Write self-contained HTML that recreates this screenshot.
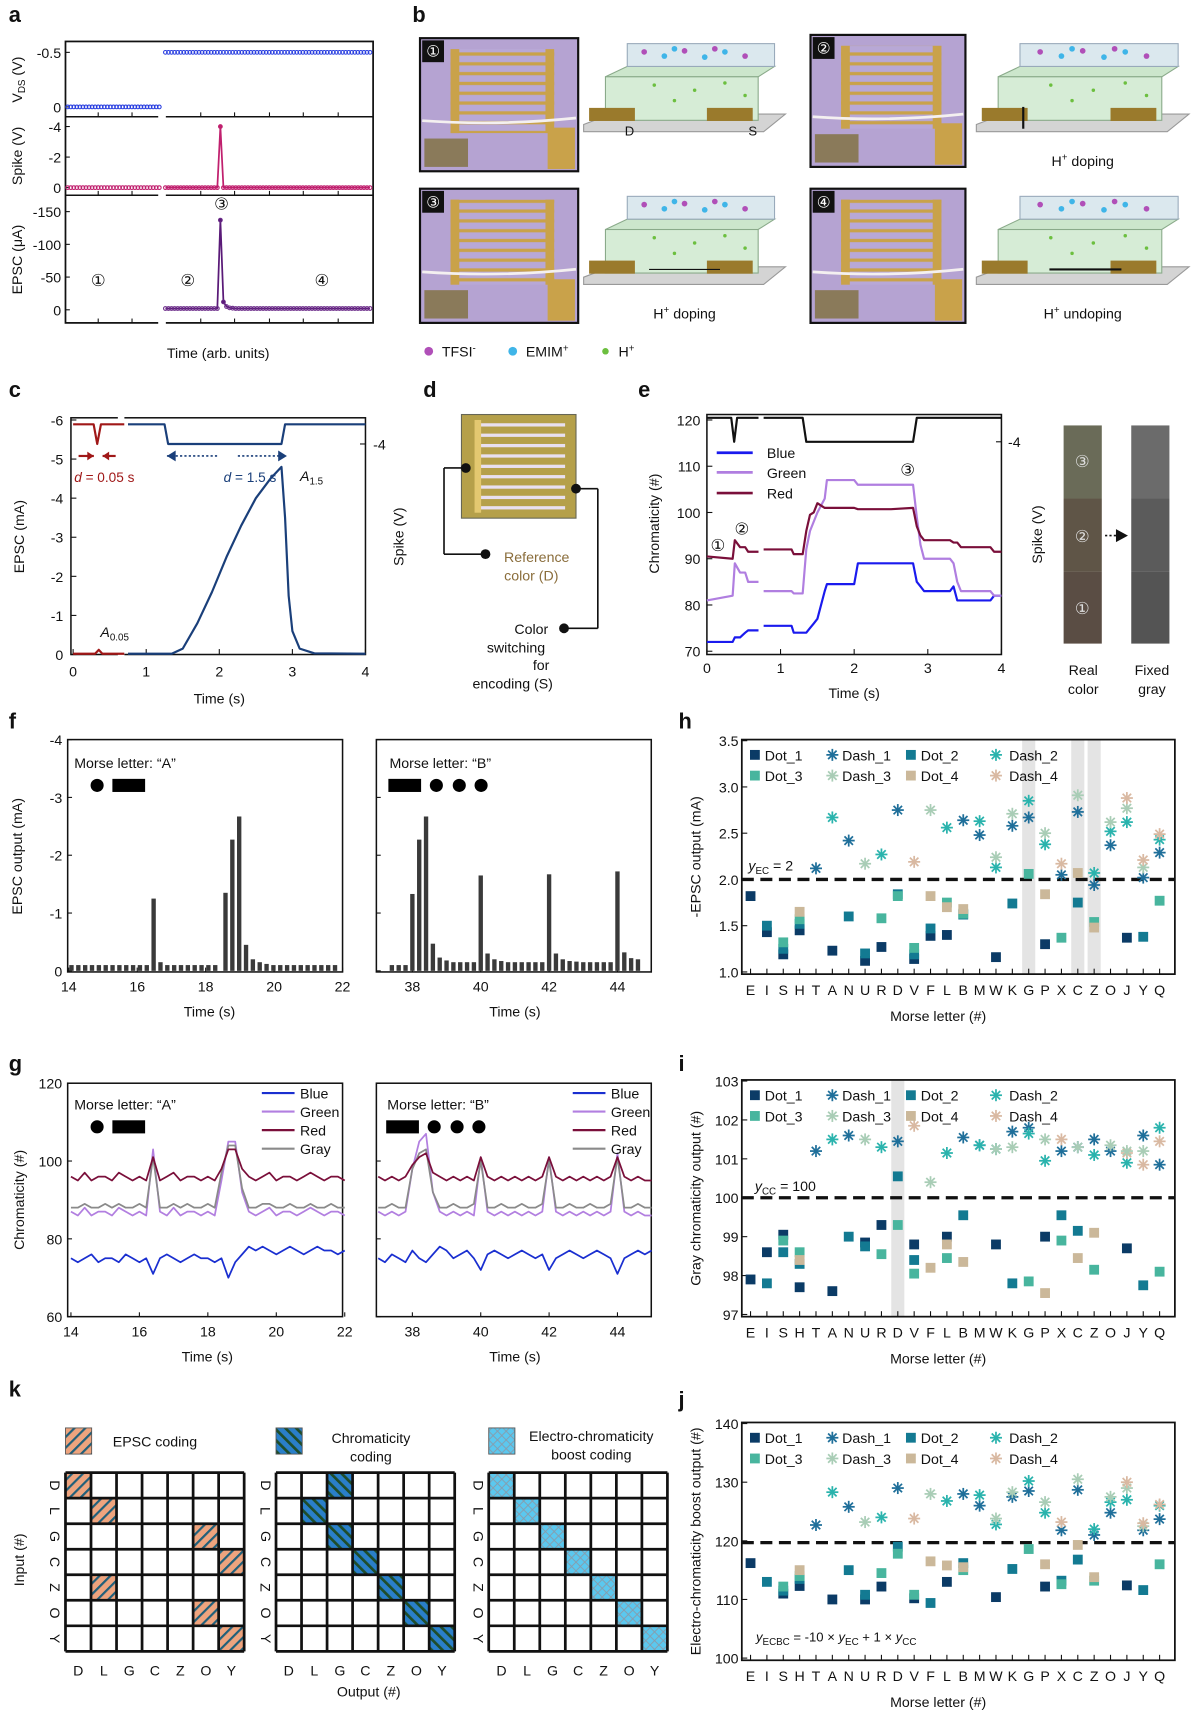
<!DOCTYPE html>
<html><head><meta charset="utf-8"><style>
html,body{margin:0;padding:0;background:#fff;}
svg{display:block;font-family:"Liberation Sans",Arial,sans-serif;}
</style></head><body>
<svg id="fig" xmlns="http://www.w3.org/2000/svg" width="1200" height="1717" viewBox="0 0 1100 1574">
<defs>
<pattern id="hatchE" patternUnits="userSpaceOnUse" width="7" height="7" patternTransform="rotate(45)"><rect width="7" height="7" fill="#eea47e"/><rect width="2" height="7" fill="#1f5f7a"/></pattern>
<pattern id="hatchC" patternUnits="userSpaceOnUse" width="7" height="7" patternTransform="rotate(-45)"><rect width="7" height="7" fill="#2a7fc9"/><rect width="2.5" height="7" fill="#1e4d2b"/></pattern>
<pattern id="hatchB" patternUnits="userSpaceOnUse" width="8" height="8"><rect width="8" height="8" fill="#5bc8ef"/><path d="M0,0L8,8M8,0L0,8" stroke="#8a9aa8" stroke-width="0.8"/></pattern>
<pattern id="comb" patternUnits="userSpaceOnUse" width="10" height="9"><rect width="10" height="9" fill="#b8a8d6"/><rect y="3" width="10" height="3" fill="#c9a24a"/></pattern>
</defs>
</svg>
<script>
// ---------------- DATA ----------------
const aTicksVds=[-0.5,0];
const aTicksSpike=[-4,-2,0];
const aTicksEpsc=[-150,-100,-50,0];
const aEpscRight=[-2,-2,-2,-2,-2,-2,-2,-2,-2,-2,-2,-2,-2,-2,-2,-2,-2,-2,-137,-12,-5,-3,-2.5,-2,-2,-2,-2,-2,-2,-2,-2,-2,-2,-2,-2,-2,-2,-2,-2,-2,-2,-2,-2,-2,-2,-2,-2,-2,-2,-2,-2,-2,-2,-2,-2,-2,-2,-2,-2,-2,-2,-2,-2,-2,-2,-2,-2,-2];
const aSpikeRight=[0,0,0,0,0,0,0,0,0,0,0,0,0,0,0,0,0,0,-4,0,0,0,0,0,0,0,0,0,0,0,0,0,0,0,0,0,0,0,0,0,0,0,0,0,0,0,0,0,0,0,0,0,0,0,0,0,0,0,0,0,0,0,0,0,0,0,0,0];
const aVdsLeft=[0,0,0,0,0,0,0,0,0,0,0,0,0,0,0,0,0,0,0,0,0,0,0,0,0,0,0,0,0,0,0];
const aVdsRight=[-0.5,-0.5,-0.5,-0.5,-0.5,-0.5,-0.5,-0.5,-0.5,-0.5,-0.5,-0.5,-0.5,-0.5,-0.5,-0.5,-0.5,-0.5,-0.5,-0.5,-0.5,-0.5,-0.5,-0.5,-0.5,-0.5,-0.5,-0.5,-0.5,-0.5,-0.5,-0.5,-0.5,-0.5,-0.5,-0.5,-0.5,-0.5,-0.5,-0.5,-0.5,-0.5,-0.5,-0.5,-0.5,-0.5,-0.5,-0.5,-0.5,-0.5,-0.5,-0.5,-0.5,-0.5,-0.5,-0.5,-0.5,-0.5,-0.5,-0.5,-0.5,-0.5,-0.5,-0.5,-0.5,-0.5,-0.5,-0.5];

const cTicksX=[0,1,2,3,4];
const cTicksY=[-6,-5,-4,-3,-2,-1,0];
const cRedT=[0,0.3,0.35,0.4,0.7];
const cRedV=[-0.02,-0.02,-0.12,-0.02,-0.02];
const cBlueT=[0.75,1.35,1.5,1.7,1.9,2.1,2.3,2.5,2.7,2.85,2.9,2.95,3.0,3.1,3.3,4.0];
const cBlueV=[-0.02,-0.02,-0.15,-0.8,-1.6,-2.5,-3.3,-4.0,-4.5,-4.8,-3.5,-1.5,-0.6,-0.15,-0.03,-0.02];
const cSpikeRedT=[0,0.28,0.33,0.38,0.7];
const cSpikeRedV=[0,0,-4,0,0];
const cSpikeBlueT=[0.75,1.25,1.3,2.85,2.9,4.0];
const cSpikeBlueV=[0,0,-4,-4,0,0];

const eTicksX=[0,1,2,3,4];
const eTicksY=[70,80,90,100,110,120];
const eT=[0,0.35,0.38,0.45,0.52,0.56,0.7,NaN,0.77,1.15,1.18,1.3,1.35,1.4,1.45,1.5,1.6,1.63,2.0,2.05,2.5,2.8,2.85,2.9,2.95,3.3,3.35,3.4,3.45,3.85,3.9,4.0];
const eRed=[90.5,90,94,92.5,92.5,91.5,91.5,NaN,92,92,91,91,96,99.5,100,102,101,101,101,100.7,100.7,101,97,95,94,94,93.5,93.5,92.5,92.5,91.5,91.5];
const eGreen=[81,82,89,87,87,85,85,NaN,83,83,82.5,82.5,92,96,98,100,103,107,107,106,106,106,99,93,90,90,89,85,83,83,82,82];
const eBlue=[72,72,73,73,74,74.5,74.5,NaN,75.5,75.5,74,74,74,75,76,77,83,84.5,84.5,89,89,89,85,84,83,83,84,81,81,81,82,82];
const eSpikeT=[0,0.33,0.37,0.41,0.7,NaN,0.77,1.3,1.35,2.8,2.85,4.0];
const eSpikeV=[0,0,-4,0,0,NaN,0,0,-4,-4,0,0];

const fLeftT=[14,14.2,14.4,14.6,14.8,15,15.2,15.4,15.6,15.8,16,16.2,16.4,16.6,16.8,17,17.2,17.4,17.6,17.8,18,18.2,18.5,18.7,18.9,19.1,19.3,19.5,19.7,19.9,20.1,20.3,20.5,20.7,20.9,21.1,21.3,21.5,21.7];
const fLeftV=[0.1,0.1,0.1,0.1,0.1,0.1,0.1,0.1,0.1,0.1,0.1,0.1,1.25,0.15,0.1,0.1,0.1,0.1,0.1,0.1,0.1,0.1,1.35,2.27,2.67,0.45,0.2,0.15,0.12,0.1,0.1,0.1,0.1,0.1,0.1,0.1,0.1,0.1,0.1];
const fRightT=[37.4,37.6,37.8,38.0,38.2,38.4,38.6,38.8,39.0,39.2,39.4,39.6,39.8,40.0,40.2,40.4,40.6,40.8,41.0,41.2,41.4,41.6,41.8,42.0,42.2,42.4,42.6,42.8,43.0,43.2,43.4,43.6,43.8,44.0,44.2,44.4,44.6];
const fRightV=[0.1,0.1,0.1,1.33,2.27,2.67,0.47,0.23,0.18,0.15,0.15,0.15,0.15,1.65,0.3,0.2,0.17,0.15,0.15,0.15,0.15,0.15,0.15,1.67,0.3,0.2,0.17,0.16,0.15,0.15,0.15,0.15,0.15,1.72,0.32,0.22,0.2];

const gLeftT=[14,14.2,14.4,14.6,14.8,15,15.2,15.4,15.6,15.8,16,16.2,16.4,16.6,16.8,17,17.2,17.4,17.6,17.8,18,18.2,18.4,18.6,18.8,19,19.2,19.4,19.6,19.8,20,20.2,20.4,20.6,20.8,21,21.2,21.4,21.6,21.8,22];
const gLeftRed=[96,95,97,95,96,96,95,97,96,95,96,95,101,95,96,97,95,96,96,95,96,95,98,103,103,98,96,95,96,97,95,96,96,95,96,97,96,95,96,96,95];
const gLeftGreen=[87,86,88,86,87,87,86,88,87,86,87,86,103,87,86,88,86,87,87,86,87,86,95,105,105,92,87,86,87,88,86,87,87,86,87,88,87,86,87,87,86];
const gLeftGray=[88,88,89,88,88,89,88,89,88,88,89,88,101,88,88,89,88,89,88,88,89,88,97,104,104,93,88,88,89,89,88,88,89,88,88,89,88,88,89,88,88];
const gLeftBlue=[75,74,75,76,74,75,75,74,76,75,74,75,71,75,76,75,74,75,76,75,75,74,75,70,74,76,78,77,78,77,76,77,78,77,76,77,78,77,77,76,77];
const gRightT=[37,37.2,37.4,37.6,37.8,38,38.2,38.4,38.6,38.8,39,39.2,39.4,39.6,39.8,40,40.2,40.4,40.6,40.8,41,41.2,41.4,41.6,41.8,42,42.2,42.4,42.6,42.8,43,43.2,43.4,43.6,43.8,44,44.2,44.4,44.6,44.8,45];
const gRightRed=[96,95,96,95,96,99,101,102,97,96,95,96,95,96,95,101,96,95,96,95,96,95,96,95,96,101,96,95,96,95,96,95,96,95,96,101,96,95,96,95,95];
const gRightGreen=[87,86,87,86,87,98,105,107,92,87,86,87,86,87,86,101,87,86,87,86,87,86,87,86,87,101,87,86,87,86,87,86,87,86,87,102,87,86,87,86,86];
const gRightGray=[88,88,89,88,88,98,102,103,92,88,88,89,88,88,89,100,88,88,89,88,88,89,88,88,89,100,88,88,89,88,88,89,88,88,89,101,88,88,89,88,88];
const gRightBlue=[75,74,76,75,74,77,75,74,76,78,77,75,76,77,75,72,76,77,76,75,76,77,76,75,76,72,75,76,77,76,75,76,77,76,75,71,75,76,77,76,77];

const letters=["E","I","S","H","T","A","N","U","R","D","V","F","L","B","M","W","K","G","P","X","C","Z","O","J","Y","Q"];
const seriesNames=["Dot_1","Dash_1","Dot_2","Dash_2","Dot_3","Dash_3","Dot_4","Dash_4"];
const seriesColors=["#0b3b66","#1f6f9a","#137a92","#2ab3ad","#48b59e","#a9cdb6","#cbb89a","#d9b9a2"];
// each entry: [letterIndex, seriesIndex, value]
const hPoints=[[0,0,1.82],[1,0,1.43],[1,2,1.5],[2,0,1.19],[2,2,1.25],[2,4,1.32],[3,0,1.45],[3,2,1.52],[3,4,1.57],[3,6,1.65],[4,1,2.12],[5,0,1.23],[5,3,2.67],[6,2,1.6],[6,1,2.42],[7,0,1.12],[7,2,1.2],[7,5,2.17],[8,0,1.27],[8,4,1.58],[8,3,2.27],[9,2,1.84],[9,4,1.82],[9,1,2.75],[10,0,1.14],[10,2,1.19],[10,4,1.26],[10,7,2.19],[11,0,1.39],[11,2,1.47],[11,6,1.82],[11,5,2.75],[12,0,1.4],[12,4,1.75],[12,6,1.7],[12,3,2.56],[13,2,1.62],[13,4,1.63],[13,6,1.68],[13,1,2.64],[14,1,2.48],[14,3,2.63],[15,0,1.16],[15,3,2.13],[15,5,2.24],[16,2,1.74],[16,1,2.58],[16,5,2.71],[17,4,2.06],[17,1,2.67],[17,3,2.85],[18,0,1.3],[18,6,1.84],[18,3,2.38],[18,5,2.5],[19,4,1.37],[19,1,2.05],[19,7,2.17],[20,2,1.75],[20,6,2.07],[20,1,2.73],[20,5,2.91],[21,4,1.54],[21,6,1.48],[21,1,1.94],[21,3,2.07],[22,1,2.37],[22,3,2.52],[22,5,2.62],[23,0,1.37],[23,3,2.62],[23,5,2.77],[23,7,2.88],[24,2,1.38],[24,1,2.02],[24,5,2.13],[24,7,2.21],[25,4,1.77],[25,1,2.29],[25,3,2.43],[25,7,2.49]];
const iPoints=[[0,0,97.9],[1,0,98.6],[1,2,97.8],[2,0,99.05],[2,4,98.9],[2,2,98.6],[3,0,97.7],[3,2,98.3],[3,4,98.6],[3,6,98.4],[4,1,101.2],[5,0,97.6],[5,3,101.5],[6,2,99.0],[6,1,101.6],[7,0,98.85],[7,2,98.75],[7,5,101.5],[8,0,99.3],[8,4,98.55],[8,3,101.3],[9,2,100.55],[9,4,99.3],[9,1,101.45],[10,0,98.8],[10,2,98.4],[10,4,98.05],[10,7,101.85],[11,6,98.2],[11,5,100.4],[12,0,99.0],[12,6,98.8],[12,4,98.45],[12,3,101.15],[13,2,99.55],[13,6,98.35],[13,1,101.55],[14,1,101.35],[14,3,101.35],[15,0,98.8],[15,3,101.25],[15,5,101.25],[16,2,97.8],[16,1,101.7],[16,5,101.3],[17,4,97.85],[17,1,101.8],[17,3,101.65],[18,0,99.0],[18,6,97.55],[18,3,100.95],[18,5,101.5],[19,2,99.55],[19,4,98.9],[19,1,101.2],[19,7,101.5],[20,2,99.15],[20,6,98.45],[20,1,101.3],[20,5,101.3],[21,4,98.15],[21,6,99.1],[21,1,101.5],[21,3,101.1],[22,1,101.2],[22,5,101.35],[23,0,98.7],[23,3,100.9],[23,7,101.15],[23,5,101.2],[24,2,97.75],[24,1,101.6],[24,5,101.2],[24,7,100.85],[25,4,98.1],[25,1,100.85],[25,3,101.8],[25,7,101.45]];
const jPoints=[[0,0,116.2],[1,2,113.0],[2,0,111.0],[2,2,111.5],[2,4,112.2],[3,0,112.3],[3,2,113.5],[3,4,114.0],[3,6,115.0],[4,1,122.7],[5,0,110.0],[5,3,128.3],[6,2,115.0],[6,1,125.8],[7,0,110.0],[7,2,110.8],[7,5,123.2],[8,0,112.2],[8,4,114.5],[8,3,124.0],[9,2,119.0],[9,4,117.8],[9,1,129.0],[10,0,110.2],[10,4,110.8],[10,7,123.8],[11,2,109.4],[11,6,116.5],[11,5,128.0],[12,0,113.0],[12,6,115.8],[12,3,126.8],[13,2,116.2],[13,4,115.0],[13,6,115.5],[13,1,128.0],[14,1,126.0],[14,3,127.8],[15,0,110.4],[15,3,122.8],[15,5,123.8],[16,2,115.2],[16,1,127.5],[16,5,128.3],[17,4,118.6],[17,1,128.5],[17,3,130.2],[18,0,112.2],[18,6,116.0],[18,3,124.8],[18,5,126.6],[19,2,113.2],[19,4,112.6],[19,1,121.8],[19,7,123.2],[20,2,116.8],[20,6,119.3],[20,1,128.7],[20,5,130.5],[21,4,113.2],[21,6,113.8],[21,1,121.0],[21,3,122.0],[22,1,124.8],[22,3,126.6],[22,5,127.5],[23,0,112.4],[23,3,127.0],[23,5,129.0],[23,7,130.0],[24,2,111.6],[24,1,121.8],[24,5,122.5],[24,7,123.0],[25,4,116.0],[25,1,123.7],[25,3,126.0],[25,7,126.2]];
const hTicks=[1.0,1.5,2.0,2.5,3.0,3.5];
const iTicks=[97,98,99,100,101,102,103];
const jTicks=[100,110,120,130,140];

const kLetters=["D","L","G","C","Z","O","Y"];
const kEpsc=[0,1,5,6,1,5,6];   // output column for each input row
const kChroma=[2,1,2,3,4,5,6];
const kBoost=[0,1,2,3,4,5,6];

// ---------------- HELPERS ----------------
const NS="http://www.w3.org/2000/svg";
const SVG=document.getElementById('fig');
function mk(tag,attrs,name,inter,parent){
  const e=document.createElementNS(NS,tag);
  for(const k in attrs) e.setAttribute(k,attrs[k]);
  
  
  (parent||SVG).appendChild(e);
  return e;
}
function T(x,y,s,name,o){
  o=o||{};
  const a={x:x,y:y,'font-size':o.size||13,fill:o.fill||'#111','text-anchor':o.anchor||'middle'};
  if(o.weight)a['font-weight']=o.weight;
  if(o.style)a['font-style']=o.style;
  if(o.rot!==undefined)a.transform='rotate('+o.rot+' '+x+' '+y+')';
  const e=mk('text',a,name,false);
  e.innerHTML=s;
  return e;
}
function L(x1,y1,x2,y2,c,w,name,dash){
  const a={x1:x1,y1:y1,x2:x2,y2:y2,stroke:c,'stroke-width':w};
  if(dash)a['stroke-dasharray']=dash;
  return mk('line',a,name,false);
}
function R(x,y,w,h,fill,name,o){
  o=o||{};
  const a={x:x,y:y,width:w,height:h,fill:fill};
  if(o.stroke){a.stroke=o.stroke;a['stroke-width']=o.sw||1;}
  return mk('rect',a,name,false);
}
function scale(d0,d1,r0,r1){return v=>r0+(v-d0)*(r1-r0)/(d1-d0);}
function pathFrom(ts,vs,sx,sy){
  let d='',pen=false;
  for(let i=0;i<ts.length;i++){
    if(isNaN(ts[i])||isNaN(vs[i])){pen=false;continue;}
    d+=(pen?'L':'M')+sx(ts[i]).toFixed(1)+','+sy(vs[i]).toFixed(1);
    pen=true;
  }
  return d;
}
function P(d,c,w,name){return mk('path',{d:d,fill:'none',stroke:c,'stroke-width':w,'stroke-linejoin':'round'},name,false);}

// panel letters
[["a",8,20],["b",378,20],["c",8,364],["d",388,364],["e",585,364],["f",8,668],["h",622,668],["g",8,982],["i",622,982],["k",8,1280],["j",622,1290]].forEach(p=>{
  T(p[1],p[2],p[0],'panel-label-'+p[0],{size:20,weight:'bold',anchor:'start'});
});

// ---------------- PANEL A ----------------
(function(){
  const x0=60,x1=342;
  const sx=u=>62+u*2.8;
  const yV=scale(0,-0.5,98,48), yS=scale(0,-4,172,116), yE=scale(0,-150,284,194);
  R(x0,38,x1-x0,258,'none','panel-a-frame',{stroke:'#111',sw:1.6});
  L(x0,107,x1,107,'#111',1.4,'panel-a-divider-1');
  L(x0,179,x1,179,'#111',1.4,'panel-a-divider-2');
  [107,179,296].forEach((yy,k)=>{
    [90,121,184,215,247,278,310].forEach(xx=>L(xx,yy,xx,yy-4,'#111',1,'x-tick-a'));
    R(145,yy-2,7,4,'#fff','axis-break-a');
  });
  aTicksVds.forEach(v=>{L(x0,yV(v),x0+4,yV(v),'#111',1,'y-tick-vds');T(x0-4,yV(v)+5,v===0?'0':String(v),'y-tick-label-vds',{anchor:'end'});});
  aTicksSpike.forEach(v=>{L(x0,yS(v),x0+4,yS(v),'#111',1,'y-tick-spike');T(x0-4,yS(v)+5,String(v),'y-tick-label-spike',{anchor:'end'});});
  aTicksEpsc.forEach(v=>{L(x0,yE(v),x0+4,yE(v),'#111',1,'y-tick-epsc');T(x0-4,yE(v)+5,String(v),'y-tick-label-epsc',{anchor:'end'});});
  T(20,73,'V<tspan font-size="9" dy="3">DS</tspan><tspan dy="-3"> (V)</tspan>','y-axis-title-vds',{rot:-90});
  T(20,143,'Spike (V)','y-axis-title-spike',{rot:-90});
  T(20,238,'EPSC (μA)','y-axis-title-epsc',{rot:-90});
  T(200,328,'Time (arb. units)','x-axis-title-a');
  // VDS points
  aVdsLeft.forEach((v,i)=>mk('circle',{cx:sx(i),cy:yV(v),r:1.7,fill:'none',stroke:'#2a3fe0','stroke-width':1},'vds-point',false));
  aVdsRight.forEach((v,i)=>mk('circle',{cx:sx(32+i),cy:yV(v),r:1.7,fill:'none',stroke:'#2a3fe0','stroke-width':1},'vds-point',false));
  // spike
  aVdsLeft.forEach((v,i)=>mk('circle',{cx:sx(i),cy:yS(0),r:1.7,fill:'none',stroke:'#c0206e','stroke-width':1},'spike-point',false));
  P(pathFrom(aSpikeRight.map((v,i)=>32+i),aSpikeRight,sx,yS),'#c0206e',1.6,'spike-line');
  aSpikeRight.forEach((v,i)=>mk('circle',{cx:sx(32+i),cy:yS(v),r:1.7,fill:v?'#c0206e':'none',stroke:'#c0206e','stroke-width':1},'spike-point',false));
  P(pathFrom(aEpscRight.map((v,i)=>32+i),aEpscRight,sx,yE),'#5a1a78',1.6,'epsc-line');
  aEpscRight.forEach((v,i)=>mk('circle',{cx:sx(32+i),cy:yE(v),r:1.7,fill:v<-10?'#5a1a78':'none',stroke:'#6a2a88','stroke-width':1},'epsc-point',false));
  [['①',90,262],['②',172,262],['③',203,192],['④',295,262]].forEach(c=>T(c[1],c[2],c[0],'stage-marker',{size:15}));
})();

// ---------------- PANEL B ----------------
function photo(x,y,w,h,num){
  R(x,y,w,h,'#b5a3d2','device-photo',{stroke:'#111',sw:2});
  R(x+28,y+10,w-50,h-45,'url(#comb)','electrode-comb');
  R(x+28,y+10,8,h-45,'#c9a24a','electrode-bus-left');
  R(x+w-30,y+10,8,h-45,'#c9a24a','electrode-bus-right');
  R(x+w-28,y+h-40,25,38,'#c9a24a','electrode-pad');
  R(x+4,y+h-30,40,26,'#8a7a5a','photo-corner');
  P('M'+(x+2)+','+(y+h*0.62)+' Q'+(x+w/2)+','+(y+h*0.66)+' '+(x+w-2)+','+(y+h*0.6),'#f4f0f0',2.5,'photo-fiber');
  R(x+2,y+2,20,20,'#111','photo-number-box');
  T(x+12,y+17,num,'photo-number',{size:14,fill:'#fff'});
}
function schem(x,y,w,h,lbl){
  mk('polygon',{points:[x,y+h*0.78,x+25,y+h*0.68,x+w,y+h*0.68,x+w-20,y+h*0.85,x,y+h*0.85].join(' '),fill:'#d4d4d4',stroke:'#999'},'substrate',false);
  mk('polygon',{points:[x+20,y+h*0.32,x+40,y+h*0.22,x+w-10,y+h*0.22,x+w-25,y+h*0.32].join(' '),fill:'#bfe0bf',stroke:'#8aaa8a','fill-opacity':0.8},'electrolyte-top',false);
  R(x+20,y+h*0.32,w-45,h*0.42,'#d6ecd6','electrolyte-layer',{stroke:'#8aaa8a'});
  R(x+40,y,w-50,h*0.22,'#dbe8ee','ion-box',{stroke:'#9ab'});
  R(x+5,y+h*0.62,42,12,'#9a7a2c','source-electrode');
  R(x+w-72,y+h*0.62,42,12,'#9a7a2c','drain-electrode');
  const dots=[[0.3,0.08,'#b04fb8'],[0.4,0.12,'#3fb5e8'],[0.5,0.07,'#b04fb8'],[0.6,0.13,'#3fb5e8'],[0.7,0.08,'#3fb5e8'],[0.8,0.12,'#b04fb8'],[0.45,0.05,'#3fb5e8'],[0.65,0.05,'#b04fb8']];
  dots.forEach(d=>mk('circle',{cx:x+w*d[0],cy:y+h*d[1],r:2.6,fill:d[2]},'ion-dot',false));
  [[0.35,0.4],[0.55,0.45],[0.7,0.38],[0.45,0.55],[0.8,0.5]].forEach(d=>mk('circle',{cx:x+w*d[0],cy:y+h*d[1],r:1.6,fill:'#6cbf3f'},'proton-dot',false));
  if(lbl)T(x+w/2,y+h+17,lbl,'schematic-label');
}
photo(385,35,145,122,'①');schem(535,40,185,95);
T(577,124,'D','source-label',{size:12});T(690,124,'S','drain-label',{size:12});
photo(743,32,142,121,'②');schem(895,40,195,95,'H<tspan font-size="9" dy="-5">+</tspan><tspan dy="5"> doping</tspan>');
photo(385,173,145,123,'③');schem(535,180,185,95,'H<tspan font-size="9" dy="-5">+</tspan><tspan dy="5"> doping</tspan>');
photo(743,173,142,123,'④');schem(895,180,195,95,'H<tspan font-size="9" dy="-5">+</tspan><tspan dy="5"> undoping</tspan>');
L(938,98,938,118,'#111',2,'doping-arrow');
L(660,247,595,247,'#111',1,'doping-arrow-3');
L(1028,247,962,247,'#111',2,'undoping-arrow');
mk('circle',{cx:393,cy:322,r:4,fill:'#b04fb8'},'legend-tfsi-dot',false);T(405,327,'TFSI<tspan font-size="9" dy="-5">-</tspan>','legend-tfsi',{anchor:'start'});
mk('circle',{cx:470,cy:322,r:4,fill:'#3fb5e8'},'legend-emim-dot',false);T(482,327,'EMIM<tspan font-size="9" dy="-5">+</tspan>','legend-emim',{anchor:'start'});
mk('circle',{cx:555,cy:322,r:3,fill:'#6cbf3f'},'legend-h-dot',false);T(567,327,'H<tspan font-size="9" dy="-5">+</tspan>','legend-h',{anchor:'start'});

// ---------------- PANEL C ----------------
(function(){
  const sx=scale(0,4,67,335), sy=scale(0,-6,600,385), sp=scale(0,-4,389,407);
  R(65,383,270,217,'none','panel-c-frame',{stroke:'#111',sw:1.4});
  cTicksX.forEach(v=>{L(sx(v),600,sx(v),595,'#111',1,'x-tick-c');T(sx(v),620,String(v),'x-tick-label-c');});
  cTicksY.forEach(v=>{L(65,sy(v),70,sy(v),'#111',1,'y-tick-c');T(58,sy(v)+5,v===0?'0':String(v),'y-tick-label-c',{anchor:'end'});});
  L(330,sp(-4),335,sp(-4),'#111',1,'right-tick-c');T(342,sp(-4)+5,'-4','right-tick-label-c',{anchor:'start'});
  R(108,380,6,225,'#fff','axis-break-c');
  T(201,645,'Time (s)','x-axis-title-c');
  T(22,492,'EPSC (mA)','y-axis-title-c',{rot:-90});
  T(370,492,'Spike (V)','right-axis-title-c',{rot:-90});
  P(pathFrom(cRedT,cRedV,sx,sy),'#a01818',2,'epsc-red');
  P(pathFrom(cBlueT,cBlueV,sx,sy),'#1a3f7a',2,'epsc-blue');
  P(pathFrom(cSpikeRedT,cSpikeRedV,sx,sp),'#a01818',2,'spike-red');
  P(pathFrom(cSpikeBlueT,cSpikeBlueV,sx,sp),'#1a3f7a',2,'spike-blue');
  L(72,418,86,418,'#a01818',2,'d-arrow-left');L(94,418,106,418,'#a01818',2,'d-arrow-right');
  mk('polygon',{points:'86,418 80,414 80,422',fill:'#a01818'},'arrow-head',false);
  mk('polygon',{points:'94,418 100,414 100,422',fill:'#a01818'},'arrow-head',false);
  T(68,442,'<tspan font-style="italic">d</tspan> = 0.05 s','d-label-red',{fill:'#a01818',anchor:'start',size:12.5});
  L(153,418,200,418,'#1a3f7a',1.5,'d-arrow-blue-left','2 2');L(218,418,262,418,'#1a3f7a',1.5,'d-arrow-blue-right','2 2');
  mk('polygon',{points:'153,418 161,413 161,423',fill:'#1a3f7a'},'arrow-head',false);
  mk('polygon',{points:'263,418 255,413 255,423',fill:'#1a3f7a'},'arrow-head',false);
  T(205,442,'<tspan font-style="italic">d</tspan> = 1.5 s','d-label-blue',{fill:'#1a3f7a',anchor:'start',size:12.5});
  T(275,441,'<tspan font-style="italic">A</tspan><tspan font-size="9" dy="3">1.5</tspan>','a15-label',{anchor:'start'});
  T(92,584,'<tspan font-style="italic">A</tspan><tspan font-size="9" dy="3">0.05</tspan>','a005-label',{anchor:'start'});
})();

// ---------------- PANEL D ----------------
R(423,380,105,95,'#b5a04a','chip-image',{stroke:'#665',sw:1});
for(let k=0;k<9;k++){R(440,388+k*9.5,78,3,'#e8e0f0','chip-finger');}
R(435,385,6,85,'#e3c870','chip-bus');
L(427,429,407,429,'#111',1.5,'wire-ref');L(407,429,407,508,'#111',1.5,'wire-ref');L(407,508,445,508,'#111',1.5,'wire-ref');
L(528,448,548,448,'#111',1.5,'wire-sw');L(548,448,548,576,'#111',1.5,'wire-sw');L(548,576,517,576,'#111',1.5,'wire-sw');
[[427,429],[445,508],[528,448],[517,576]].forEach(p=>mk('circle',{cx:p[0],cy:p[1],r:4.5,fill:'#111'},'wire-node',false));
T(492,515,'Reference','ref-label-1',{fill:'#8a6d3b'});T(487,532,'color (D)','ref-label-2',{fill:'#8a6d3b'});
T(487,581,'Color','sw-label-1');T(473,598,'switching','sw-label-2');T(496,614,'for','sw-label-3');T(470,631,'encoding (S)','sw-label-4');

// ---------------- PANEL E ----------------
(function(){
  const sx=scale(0,4,648,918), sy=scale(70,120,597,385), sp=scale(0,-4,383,405);
  R(648,380,270,220,'none','panel-e-frame',{stroke:'#111',sw:1.4});
  eTicksX.forEach(v=>{L(sx(v),600,sx(v),595,'#111',1,'x-tick-e');T(sx(v),617,String(v),'x-tick-label-e');});
  eTicksY.forEach(v=>{L(648,sy(v),653,sy(v),'#111',1,'y-tick-e');T(642,sy(v)+5,String(v),'y-tick-label-e',{anchor:'end'});});
  L(913,sp(-4),918,sp(-4),'#111',1,'right-tick-e');T(924,sp(-4)+5,'-4','right-tick-label-e',{anchor:'start'});
  T(783,640,'Time (s)','x-axis-title-e');
  T(604,480,'Chromaticity (#)','y-axis-title-e',{rot:-90});
  T(955,490,'Spike (V)','right-axis-title-e',{rot:-90});
  P(pathFrom(eSpikeT,eSpikeV,sx,sp),'#111',2,'spike-trace-e');
  P(pathFrom(eT,eBlue,sx,sy),'#1a1aee',2,'line-blue-e');
  P(pathFrom(eT,eGreen,sx,sy),'#b07ee0',2,'line-green-e');
  P(pathFrom(eT,eRed,sx,sy),'#7a0f3a',2,'line-red-e');
  [['Blue','#1a1aee',415],['Green','#b07ee0',433],['Red','#7a0f3a',452]].forEach(l=>{L(657,l[2],690,l[2],l[1],2.5,'legend-line-e');T(703,l[2]+5,l[0],'legend-label-e',{anchor:'start'});});
  T(658,505,'①','marker-1-e',{size:15});T(680,490,'②','marker-2-e',{size:15});T(832,436,'③','marker-3-e',{size:15});
  R(975,390,35,67,'#6a6b58','real-color-3');R(975,457,35,67,'#5f5547','real-color-2');R(975,524,35,66,'#5a4d44','real-color-1');
  R(1037,390,35,67,'#6b6b6b','gray-3');R(1037,457,35,67,'#5b5b5b','gray-2');R(1037,524,35,66,'#545454','gray-1');
  T(992,428,'③','swatch-3',{fill:'#ddd',size:15});T(992,497,'②','swatch-2',{fill:'#ddd',size:15});T(992,563,'①','swatch-1',{fill:'#ddd',size:15});
  L(1013,491,1024,491,'#111',1.5,'swatch-arrow','2 2');mk('polygon',{points:'1034,491 1023,485 1023,497',fill:'#111'},'swatch-arrow-head',false);
  T(993,619,'Real','real-label-1');T(993,636,'color','real-label-2');T(1056,619,'Fixed','gray-label-1');T(1056,636,'gray','gray-label-2');
})();

// ---------------- PANEL F ----------------
function frameAxes(x0,x1,y0,y1,xt,sx,yt,sy,name,showY){
  R(x0,y0,x1-x0,y1-y0,'none',name+'-frame',{stroke:'#111',sw:1.4});
  xt.forEach(v=>{L(sx(v),y1,sx(v),y1-4,'#111',1,name+'-x-tick');T(sx(v),y1+18,String(v),name+'-x-tick-label');});
  yt.forEach(v=>{L(x0,sy(v),x0+4,sy(v),'#111',1,name+'-y-tick');if(showY)T(x0-5,sy(v)+5,String(v),name+'-y-tick-label',{anchor:'end'});});
}
(function(){
  const sy=scale(0,-4,890,678);
  const sxL=scale(14,22,63,314), sxR=scale(38,44,378,566);
  frameAxes(62,314,678,891,[14,16,18,20,22],sxL,[-4,-3,-2,-1,0],sy,'f-left',true);
  frameAxes(345,597,678,891,[38,40,42,44],sxR,[-4,-3,-2,-1,0],sy,'f-right',false);
  fLeftT.forEach((t,i)=>R(sxL(t)+0.5,sy(-fLeftV[i]),4,890-sy(-fLeftV[i]),'#3a3a3a','bar-f-left'));
  fRightT.forEach((t,i)=>R(sxR(t)-2,sy(-fRightV[i]),4,890-sy(-fRightV[i]),'#3a3a3a','bar-f-right'));
  T(192,932,'Time (s)','x-axis-title-f-left');T(472,932,'Time (s)','x-axis-title-f-right');
  T(20,785,'EPSC output (mA)','y-axis-title-f',{rot:-90});
  T(68,704,'Morse letter: “A”','morse-a-label',{anchor:'start'});
  mk('circle',{cx:89,cy:720,r:6,fill:'#000'},'morse-dot',false);R(103,714,30,12,'#000','morse-dash');
  T(357,704,'Morse letter: “B”','morse-b-label',{anchor:'start'});
  R(356,714,30,12,'#000','morse-dash');[400,421,441].forEach(x=>mk('circle',{cx:x,cy:720,r:6,fill:'#000'},'morse-dot',false));
})();

// ---------------- PANEL G ----------------
(function(){
  const sy=scale(60,120,1207,993);
  const sxL=scale(14,22,65,316), sxR=scale(38,44,378,566);
  frameAxes(62,314,993,1207,[14,16,18,20,22],sxL,[60,80,100,120],sy,'g-left',true);
  frameAxes(345,597,993,1207,[38,40,42,44],sxR,[60,80,100,120],sy,'g-right',false);
  const cols={Blue:'#1a2fd0',Green:'#b27fe0',Red:'#7a0f3a',Gray:'#8a8a8a'};
  P(pathFrom(gLeftT,gLeftGreen,sxL,sy),cols.Green,1.6,'g-left-green');
  P(pathFrom(gLeftT,gLeftGray,sxL,sy),cols.Gray,1.6,'g-left-gray');
  P(pathFrom(gLeftT,gLeftRed,sxL,sy),cols.Red,1.6,'g-left-red');
  P(pathFrom(gLeftT,gLeftBlue,sxL,sy),cols.Blue,1.6,'g-left-blue');
  P(pathFrom(gRightT,gRightGreen,sxR,sy),cols.Green,1.6,'g-right-green');
  P(pathFrom(gRightT,gRightGray,sxR,sy),cols.Gray,1.6,'g-right-gray');
  P(pathFrom(gRightT,gRightRed,sxR,sy),cols.Red,1.6,'g-right-red');
  P(pathFrom(gRightT,gRightBlue,sxR,sy),cols.Blue,1.6,'g-right-blue');
  [[240,0],[525,0]].forEach(o=>{
    ['Blue','Green','Red','Gray'].forEach((n,k)=>{const yy=1002+k*17;L(o[0],yy,o[0]+30,yy,cols[n],2,'g-legend-line');T(o[0]+35,yy+5,n,'g-legend-label',{anchor:'start'});});
  });
  T(190,1248,'Time (s)','x-axis-title-g-left');T(472,1248,'Time (s)','x-axis-title-g-right');
  T(22,1100,'Chromaticity (#)','y-axis-title-g',{rot:-90});
  T(68,1017,'Morse letter: “A”','morse-a-label-g',{anchor:'start'});
  mk('circle',{cx:89,cy:1033,r:6,fill:'#000'},'morse-dot',false);R(103,1027,30,12,'#000','morse-dash');
  T(355,1017,'Morse letter: “B”','morse-b-label-g',{anchor:'start'});
  R(354,1027,30,12,'#000','morse-dash');[398,419,439].forEach(x=>mk('circle',{cx:x,cy:1033,r:6,fill:'#000'},'morse-dot',false));
})();

// ---------------- SCATTER PANELS H I J ----------------
function star(cx,cy,c,name){
  const g=mk('g',{},name,false);
  for(let a=0;a<4;a++){const an=a*Math.PI/4,dx=5.5*Math.cos(an),dy=5.5*Math.sin(an);
    const l=mk('line',{x1:cx-dx,y1:cy-dy,x2:cx+dx,y2:cy+dy,stroke:c,'stroke-width':1.6},'star-spoke',false,g);}
  return g;
}
function scatterPanel(pts,ticks,d0,d1,y0,y1,key,bands,fmt,thr,thrLabel,ytitle){
  const x0=680,x1=1077;
  const sx=i=>688+i*15.0, sy=scale(d0,d1,y1-2,y0+1);
  bands.forEach(b=>R(sx(b)-6,y0,12,y1-y0,'#e4e4e4','highlight-band-'+key));
  R(x0,y0,x1-x0,y1-y0,'none',key+'-frame',{stroke:'#111',sw:1.6});
  ticks.forEach(v=>{L(x0,sy(v),x0+5,sy(v),'#111',1,key+'-y-tick');T(x0-3,sy(v)+5,fmt(v),key+'-y-tick-label',{anchor:'end'});});
  letters.forEach((l,i)=>{L(sx(i),y1,sx(i),y1-5,'#111',1,key+'-x-tick');T(sx(i),y1+19,l,key+'-x-tick-label');});
  T(860,y1+43,'Morse letter (#)',key+'-x-axis-title');
  T(642,(y0+y1)/2,ytitle,key+'-y-axis-title',{rot:-90});
  L(x0,sy(thr),x1,sy(thr),'#111',3,key+'-threshold-line','11 6');
  pts.forEach(p=>{
    const cx=sx(p[0]),cy=sy(p[2]),c=seriesColors[p[1]];
    if(p[1]%2===0)R(cx-4.5,cy-4.5,9,9,c,'point-'+seriesNames[p[1]].toLowerCase().replace('_','-'));
    else star(cx,cy,c,'point-'+seriesNames[p[1]].toLowerCase().replace('_','-'));
  });
  const lx=[692,763,835,913];
  seriesNames.forEach((n,k)=>{
    const col=Math.floor(k/2)%4; // order: Dot_1,Dash_1,Dot_2,Dash_2 row1; then Dot_3,Dash_3,Dot_4,Dash_4 row2
    const idx=k<4?k:k-4, row=k<4?0:1;
    const order=[0,1,2,3,4,5,6,7];
  });
  const rows=[[0,1,2,3],[4,5,6,7]];
  rows.forEach((r,ri)=>r.forEach((s,ci)=>{
    const xx=lx[ci], yy=y0+14+ri*19;
    if(s%2===0)R(xx-4.5,yy-4.5,9,9,seriesColors[s],'legend-marker-'+key);else star(xx,yy,seriesColors[s],'legend-marker-'+key);
    T(xx+(ci===3?12:9),yy+5,seriesNames[s],'legend-label-'+key,{anchor:'start'});
  }));
  if(thrLabel)thrLabel(sy(thr));
}
scatterPanel(hPoints,hTicks,1.0,3.5,678,893,'h',[17,20,21],v=>v.toFixed(1),2.0,y=>T(686,y-8,'<tspan font-style="italic">y</tspan><tspan font-size="9" dy="3">EC</tspan><tspan dy="-3"> = 2</tspan>','threshold-label-h',{anchor:'start'}),'-EPSC output (mA)');
scatterPanel(iPoints,iTicks,97,103,990,1207,'i',[9],v=>String(v),100,y=>T(692,y-6,'<tspan font-style="italic">y</tspan><tspan font-size="9" dy="3">CC</tspan><tspan dy="-3"> = 100</tspan>','threshold-label-i',{anchor:'start'}),'Gray chromaticity output (#)');
scatterPanel(jPoints,jTicks,100,140,1304,1522,'j',[],v=>String(v),119.7,null,'Electro-chromaticity boost output (#)');
T(693,1505,'<tspan font-style="italic">y</tspan><tspan font-size="9" dy="3">ECBC</tspan><tspan dy="-3"> = -10 × </tspan><tspan font-style="italic">y</tspan><tspan font-size="9" dy="3">EC</tspan><tspan dy="-3"> + 1 × </tspan><tspan font-style="italic">y</tspan><tspan font-size="9" dy="3">CC</tspan>','formula-j',{anchor:'start',size:12});

// ---------------- PANEL K ----------------
function grid(gx,fillId,map,key,legendText){
  const gy=1350, c=23.4;
  R(gx,gy,c*7,c*7,'#fff',key+'-grid-bg');
  map.forEach((col,row)=>R(gx+col*c,gy+row*c,c,c,'url(#'+fillId+')',key+'-coded-cell'));
  for(let k=0;k<=7;k++){L(gx+k*c,gy,gx+k*c,gy+7*c,'#111',2.5,key+'-grid-line');L(gx,gy+k*c,gx+7*c,gy+k*c,'#111',2.5,key+'-grid-line');}
  kLetters.forEach((l,k)=>{T(gx+c*k+c/2,gy+7*c+22,l,key+'-col-label');T(gx-14,gy+k*c+c/2,l,key+'-row-label',{rot:90});});
  R(gx,1309,24,24,'url(#'+fillId+')',key+'-legend-swatch',{stroke:'#555',sw:0.8});
  legendText();
}
grid(60,'hatchE',kEpsc,'k-epsc',()=>T(142,1326,'EPSC coding','k-legend-epsc'));
grid(253,'hatchC',kChroma,'k-chroma',()=>{T(340,1323,'Chromaticity','k-legend-chroma-1');T(340,1340,'coding','k-legend-chroma-2');});
grid(448,'hatchB',kBoost,'k-boost',()=>{T(542,1321,'Electro-chromaticity','k-legend-boost-1');T(542,1338,'boost coding','k-legend-boost-2');});
T(22,1430,'Input (#)','k-y-axis-title',{rot:-90});
T(338,1555,'Output (#)','k-x-axis-title');
</script>
</body></html>
